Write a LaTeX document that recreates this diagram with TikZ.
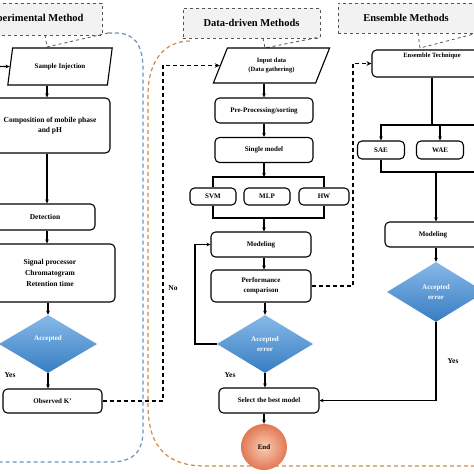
\documentclass[tikz,border=0pt]{standalone}
\usepackage{fontspec}
\setmainfont{Liberation Serif}
\usetikzlibrary{shapes.geometric,arrows.meta}
\definecolor{bluedash}{RGB}{110,145,185}
\definecolor{orangedash}{RGB}{205,140,75}
\definecolor{hdrfill}{RGB}{242,242,242}
\definecolor{hdrline}{RGB}{85,85,85}
\definecolor{diatop}{RGB}{135,185,232}
\definecolor{diabot}{RGB}{55,125,195}
\definecolor{endin}{RGB}{250,205,180}
\definecolor{endout}{RGB}{225,120,85}
\newcommand\bxfont{\fontsize{7}{10}\selectfont\bfseries}
\newcommand\hdfont{\fontsize{10.5}{12}\selectfont\bfseries}
\begin{document}
\begin{tikzpicture}[x=1pt,y=-1pt,
  box/.style={draw,line width=1.1pt,rounded corners=4.5pt,fill=white,inner sep=1pt,font=\bxfont,align=center},
  para/.style={draw,line width=1.1pt,trapezium,trapezium stretches=true,fill=white,inner sep=0pt,font=\bxfont,align=center},
  dia/.style={diamond,top color=diatop,bottom color=diabot,draw=none,text=white,inner sep=0pt,font=\bxfont,align=center},
  hdr/.style={draw=hdrline,dashed,line width=0.8pt,fill=hdrfill,font=\hdfont,inner sep=0pt},
  tail/.style={draw=hdrline,dashed,line width=0.8pt},
  arr/.style={-{Stealth[length=4pt,width=3.6pt]},line width=1.1pt},
  ln/.style={line width=1.1pt},
  dcon/.style={dash pattern=on 4pt off 3pt,line width=1.4pt},
  region/.style={dash pattern=on 4pt off 3pt,line width=1.2pt},
  lbl/.style={font=\fontsize{7.5}{9}\selectfont\bfseries,inner sep=0pt}]
\useasboundingbox (0,0) rectangle (474,474);
% regions
\draw[region,bluedash] (108,33) -- (115,33) .. controls (135,33) and (143,45) .. (143,70) -- (143,430)
  .. controls (143,455) and (130,462) .. (110,462) -- (-20,462);
\draw[region,orangedash] (190,41) .. controls (165,41) and (148,60) .. (148,95) -- (148,405)
  .. controls (148,450) and (170,466) .. (205,466) -- (490,466);
% headers
\node[hdr,minimum width=136pt,minimum height=32pt] (hexp) at (34,19) {Experimental Method};
\node[hdr,minimum width=137pt,minimum height=30pt] (hdd) at (251.5,23) {Data-driven Methods};
\node[hdr,minimum width=136pt,minimum height=30pt] (hens) at (406,18) {Ensemble Methods};
\draw[tail] (45,35) -- (47,47) -- (108,33);
\draw[tail] (263,38) -- (265,48) -- (320,37);
\draw[tail] (418,33) -- (420,48) -- (474,34);
% experimental column
\node[para,trapezium left angle=68,trapezium right angle=112,minimum width=105pt,minimum height=37pt] (sample) at (60,66.5) {Sample Injection};
\node[box,minimum width=120pt,minimum height=55pt,font=\fontsize{7.5}{10}\selectfont\bfseries] (comp) at (50,125.5) {Composition of mobile phase\\and pH};
\node[box,minimum width=100pt,minimum height=26pt,font=\fontsize{7.5}{10}\selectfont\bfseries] (det) at (45,217) {Detection};
\node[box,minimum width=130pt,minimum height=58pt,font=\fontsize{7.5}{11}\selectfont\bfseries] (sig) at (50,273) {Signal processor\\Chromatogram\\Retention time};
\node[dia,minimum width=98pt,minimum height=58pt,text depth=12pt] (acc) at (48,344) {Accepted};
\node[box,minimum width=99pt,minimum height=24pt] (obs) at (52.5,401) {Observed K'};
\node[lbl] (yes1) at (10,375) {Yes};
% data-driven column
\node[para,trapezium left angle=64,trapezium right angle=116,minimum width=117pt,minimum height=35pt,font=\fontsize{6.5}{9}\selectfont\bfseries] (input) at (271.5,65.5) {Input data\\(Data gathering)};
\node[box,minimum width=98pt,minimum height=25pt] (pre) at (264,110.5) {Pre-Processing/sorting};
\node[box,minimum width=98pt,minimum height=25pt] (single) at (264,150) {Single model};
\node[box,minimum width=46pt,minimum height=17pt] (svm) at (213,196.5) {SVM};
\node[box,minimum width=46pt,minimum height=17pt] (mlp) at (267,196.5) {MLP};
\node[box,minimum width=50pt,minimum height=17pt] (hw) at (324,196.5) {HW};
\node[box,minimum width=100pt,minimum height=25pt] (model) at (261,244.5) {Modeling};
\node[box,minimum width=100pt,minimum height=32pt] (perf) at (261,286) {Performance\\comparison};
\node[dia,minimum width=96pt,minimum height=58pt] (ddia) at (265,344) {Accepted\\error};
\node[box,minimum width=100pt,minimum height=25pt] (sel) at (269,400.5) {Select the best model};
\node[circle,minimum size=46pt,inner sep=0pt,inner color=endin,outer color=endout,font=\bxfont] (endc) at (264,447) {End};
\node[lbl] (no) at (173,288) {No};
\node[lbl] (yes2) at (230,375) {Yes};
% ensemble column
\node[box,minimum width=120pt,minimum height=27pt,text height=5pt,text depth=18pt,font=\fontsize{6.5}{8}\selectfont\bfseries] (ens) at (432,63.5) {Ensemble Technique};
\node[box,minimum width=47pt,minimum height=18pt] (sae) at (381,150) {SAE};
\node[box,minimum width=47pt,minimum height=18pt] (wae) at (440,150) {WAE};
\node[box,minimum width=96pt,minimum height=25pt] (emod) at (433,234.5) {Modeling};
\node[dia,minimum width=98pt,minimum height=60pt] (edia) at (436,292) {Accepted\\error};
\node[lbl] (yes3) at (453,361) {Yes};
% coordinates
\coordinate (colL) at (47,0);
\coordinate (colD) at (264,0);
\coordinate (inL) at (-25,66.5);
\coordinate (j1) at (264,177);
\coordinate (j2) at (264,218);
\coordinate (lp) at (195,0);
\coordinate (dv) at (163,0);
\coordinate (dv2) at (353,0);
\coordinate (j3) at (432,125);
\coordinate (j3r) at (490,125);
\coordinate (j4) at (436,172);
\coordinate (j4r) at (490,172);
% experimental connectors
\draw[arr] (inL) -- (sample.west);
\draw[arr] (sample.south -| colL) -- (comp.north -| colL);
\draw[arr] (comp.south -| colL) -- (det.north -| colL);
\draw[arr] (det.south -| colL) -- (sig.north -| colL);
\draw[arr] (sig.south -| acc.north) -- (acc.north);
\draw[arr] (acc.south) -- (acc.south |- obs.north);
\draw[dcon,-{Stealth[length=5pt,width=4.5pt]}] (obs.east) -| (dv |- input.west) -- (input.west);
% data-driven connectors
\draw[arr] (input.south -| colD) -- (pre.north -| colD);
\draw[arr] (pre.south -| colD) -- (single.north -| colD);
\draw[arr] (single.south -| colD) -- (j1);
\draw[ln] (svm.north) |- (j1) -| (hw.north);
\draw[ln] (svm.south) |- (j2) -| (hw.south);
\draw[arr] (j2) -- (model.north -| j2);
\draw[arr] (model.south -| colD) -- (perf.north -| colD);
\draw[arr] (perf.south -| ddia.north) -- (ddia.north);
\draw[arr] (ddia.west) -| (lp |- model.west) -- (model.west);
\draw[arr] (ddia.south) -- (ddia.south |- sel.north);
\draw[arr] (sel.south -| endc.north) -- (endc.north);
\draw[dcon,-{Stealth[length=5pt,width=4.5pt]}] (perf.east) -| (dv2 |- ens.west) -- (ens.west);
% ensemble connectors
\draw[ln] (ens.south) -- (j3);
\draw[ln] (j3) -- (j3r);
\draw[arr] (j3) -| (sae.north);
\draw[arr] (j3 -| wae.north) -- (wae.north);
\draw[ln] (sae.south) |- (j4) -- (j4r);
\draw[arr] (j4) -- (j4 |- emod.north);
\draw[arr] (emod.south -| edia.north) -- (edia.north);
\draw[arr] (edia.south) |- (sel.east);
\end{tikzpicture}
\end{document}
